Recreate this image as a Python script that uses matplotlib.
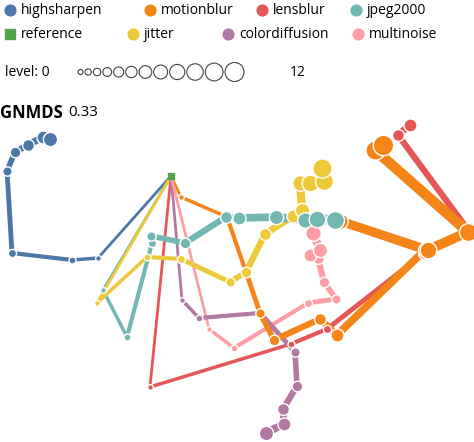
import matplotlib
matplotlib.use("Agg")
import matplotlib.pyplot as plt
from matplotlib.patches import Circle

plt.rcParams['font.family'] = ['Open Sans', 'DejaVu Sans']

reference = (171, 176)
series_names = ["highsharpen", "motionblur", "lensblur", "jpeg2000",
                "jitter", "colordiffusion", "multinoise"]
colors = {"highsharpen": "#4c78a8", "motionblur": "#f58518", "lensblur": "#e45756",
          "jpeg2000": "#72b7b2", "jitter": "#eeca3b", "colordiffusion": "#b279a2",
          "multinoise": "#ff9da6", "reference": "#54a24b"}

highsharpen_x = [98, 72, 12, 7, 15, 28, 43, 50]
highsharpen_y = [158, 160, 153, 71, 52, 45, 37, 39]
motionblur_x = [181, 227, 246, 260, 274, 320, 337, 425, 340, 428, 468, 375, 383]
motionblur_y = [97, 117, 172, 213, 240, 219, 235, 150, 121, 150, 132, 50, 45]
lensblur_x = [150, 291, 327, 423, 468, 398, 410]
lensblur_y = [287, 244, 229, 154, 130, 35, 25]
jpeg2000_x = [103, 127, 152, 151, 185, 226, 239, 276, 305, 317, 335]
jpeg2000_y = [190, 237, 143, 136, 143, 117, 118, 117, 120, 119, 120]
jitter_x = [97, 147, 181, 230, 246, 265, 293, 302, 300, 310, 324, 322]
jitter_y = [203, 157, 159, 182, 172, 134, 116, 110, 83, 83, 81, 68]
colordiffusion_x = [182, 199, 260, 295, 297, 283, 284, 266]
colordiffusion_y = [200, 218, 213, 252, 286, 309, 324, 333]
multinoise_x = [209, 234, 308, 336, 324, 318, 310, 320, 313]
multinoise_y = [229, 248, 203, 199, 182, 158, 155, 150, 133]

data = {"highsharpen": (highsharpen_x, highsharpen_y),
        "motionblur": (motionblur_x, motionblur_y),
        "lensblur": (lensblur_x, lensblur_y),
        "jpeg2000": (jpeg2000_x, jpeg2000_y),
        "jitter": (jitter_x, jitter_y),
        "colordiffusion": (colordiffusion_x, colordiffusion_y),
        "multinoise": (multinoise_x, multinoise_y)}

fig = plt.figure(figsize=(4.74, 4.42), dpi=100)
ax = fig.add_axes([0, 0, 1, 1])
ax.set_xlim(0, 474)
ax.set_ylim(442, 0)
ax.axis('off')

off = 100  # plot area offset
for name in series_names:
    xs, ys = data[name]
    px = [reference[0]] + list(xs)
    py = [reference[1]] + [y + off for y in ys]
    c = colors[name]
    n = len(xs)
    for i in range(n):
        lw = 2.0 + 5.5 * i / 11
        ax.plot(px[i:i + 2], py[i:i + 2], color=c, lw=lw, solid_capstyle='butt', zorder=2 + i * 0.01)
    for i in range(n):
        r = 2.8 + 6.5 * i / 11
        ax.scatter([px[i + 1]], [py[i + 1]], s=(2 * r) ** 2 * 0.55, color=c,
                   edgecolors='white', linewidths=1, zorder=3 + i * 0.01)
ax.scatter([reference[0]], [reference[1]], marker='s', s=22, color=colors["reference"], zorder=5)

# legend
row1 = [("highsharpen", 10), ("motionblur", 150), ("lensblur", 262), ("jpeg2000", 356)]
row2 = [("reference", 10), ("jitter", 133), ("colordiffusion", 228), ("multinoise", 358)]
for name, x in row1:
    ax.scatter([x], [10], s=60, color=colors[name], zorder=5)
    ax.text(x + 11, 10, name, fontsize=10, va='center')
for name, x in row2:
    ax.scatter([x], [34], s=60, color=colors[name], marker='s' if name == 'reference' else 'o', zorder=5)
    ax.text(x + 11, 34, name, fontsize=10, va='center')

ax.text(5, 72, "level: 0", fontsize=10, va='center')
levels = list(range(13))
x = 78
for lv in levels[1:]:
    r = 2.5 + 7 * (lv - 1) / 11
    x += r
    ax.add_patch(Circle((x, 72), r, fill=False, ec='#444444', lw=0.8))
    x += r + 2
ax.text(290, 72, "12", fontsize=10, va='center')

ax.text(0, 113, "GNMDS", fontsize=12, fontweight='bold', va='center')
ax.text(68, 113, "0.33", fontsize=11, va='center')

fig.savefig("out.png", dpi=100)
